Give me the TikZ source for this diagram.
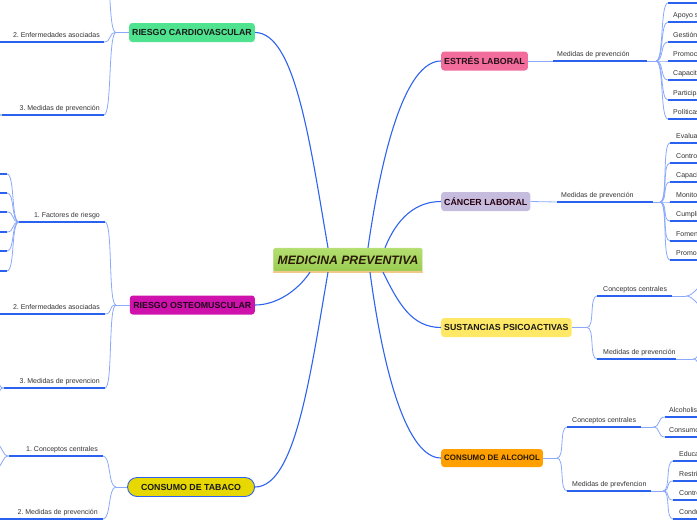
\documentclass[tikz,border=0pt]{standalone}
\usepackage{fontspec}
\setmainfont{Liberation Sans}
\definecolor{trunkblue}{HTML}{2E63EE}
\definecolor{twigblue}{HTML}{8AA9FA}
\definecolor{ulineblue}{HTML}{2A62EF}
\definecolor{lbltext}{HTML}{333333}
\definecolor{hubtop}{HTML}{B4DF70}
\definecolor{hubbot}{HTML}{98CC50}
\definecolor{hubline}{HTML}{C9E29A}
\definecolor{hubedge}{HTML}{F2C98A}
\definecolor{hubtext}{HTML}{2B1A05}
\definecolor{cardiofill}{HTML}{4FE38F}
\definecolor{osteofill}{HTML}{D012AC}
\definecolor{tabacofill}{HTML}{E6D800}
\definecolor{estresfill}{HTML}{F26C9C}
\definecolor{cancerfill}{HTML}{C6BCDD}
\definecolor{sustfill}{HTML}{FFE866}
\definecolor{alcoholfill}{HTML}{FFA000}
\begin{document}
\begin{tikzpicture}[x=1pt,y=-1pt,
    hub/.style={draw=hubline,rounded corners=1.5pt,top color=hubtop,bottom color=hubbot,
      minimum height=24pt,inner xsep=4pt,text=hubtext,
      font=\fontsize{12.2}{14}\selectfont\bfseries\itshape},
    topic/.style={rounded corners=3pt,minimum height=19pt,inner xsep=3pt,
      font=\fontsize{8.8}{10}\selectfont\bfseries},
    lbl/.style={inner sep=0pt,text=lbltext,font=\fontsize{7}{8}\selectfont},
    trunk/.style={draw=trunkblue,line width=1.1pt},
    twig/.style={draw=twigblue,line width=0.8pt},
    uline/.style={draw=ulineblue,line width=1.6pt},
    tol/.style={out=180,in=0,distance=8pt},
    tor/.style={out=0,in=180,distance=8pt}]
\useasboundingbox (0,0) rectangle (697,520);
\clip (0,0) rectangle (697,520);

% centre and main topics
\node[hub] (med) at (348,260) {MEDICINA PREVENTIVA};
\draw[hubedge,line width=1.5pt] (med.south west) -- (med.south east);

\node[topic,fill=cardiofill,text=black!90,anchor=east] (cardio) at (255,32.5) {RIESGO CARDIOVASCULAR};
\node[topic,fill=osteofill,text=black!85!osteofill,anchor=east,minimum width=125pt] (osteo) at (255,305) {RIESGO OSTEOMUSCULAR};
\node[topic,fill=tabacofill,draw=trunkblue,line width=0.9pt,rounded corners=9.5pt,
  text=black!90,anchor=east,minimum width=127pt] (tabaco) at (255,487) {CONSUMO DE TABACO};
\node[topic,fill=estresfill,text=black!85!estresfill,anchor=west] (estres) at (441,61) {ESTRÉS LABORAL};
\node[topic,fill=cancerfill,text=black!80!purple,anchor=west] (cancer) at (441,201.5) {CÁNCER LABORAL};
\node[topic,fill=sustfill,text=black!90,anchor=west] (sust) at (441,327.5) {SUSTANCIAS PSICOACTIVAS};
\node[topic,fill=alcoholfill,text=black!85!alcoholfill,anchor=west,minimum height=18pt,
  font=\fontsize{7.9}{9}\selectfont\bfseries] (alcohol) at (441,458) {CONSUMO DE ALCOHOL};

\draw[trunk] ([xshift=-20pt]med.north) .. controls +(-18,-105) and +(40,0) .. (cardio.east);
\draw[trunk] ([xshift=-38pt]med.south) .. controls +(-12,18) and +(22,0) .. (osteo.east);
\draw[trunk] ([xshift=-20pt]med.south) .. controls +(-18,105) and +(40,0) .. (tabaco.east);
\draw[trunk] ([xshift=20pt]med.north) .. controls +(17,-118) and +(-31,0) .. (estres.west);
\draw[trunk] ([xshift=37pt]med.north) .. controls +(12,-30) and +(-25,0) .. (cancer.west);
\draw[trunk] ([xshift=35pt]med.south) .. controls +(15,30) and +(-30,0) .. (sust.west);
\draw[trunk] ([xshift=22pt]med.south) .. controls +(14,105) and +(-33,0) .. (alcohol.west);

% RIESGO CARDIOVASCULAR
\coordinate (cj) at (116,32.5);
\coordinate (c1) at (104,-30);
\coordinate (c2) at (104,42);   \coordinate (c2e) at (-6,42);
\coordinate (c3) at (104,115);  \coordinate (c3e) at (2,115);
\draw[twig] (cardio.west) -- (cj);
\draw[twig] (cj) to[tol] (c1);
\draw[twig] (cj) to[tol] (c2);
\draw[twig] (cj) to[tol] (c3);
\draw[uline] (c2) -- (c2e);
\draw[uline] (c3) -- (c3e);
\draw[twig] (c3e) to[tol] (-8,104) (c3e) to[tol] (-8,126);
\node[lbl,anchor=base east] (c2t) at (100,37) {2.\ Enfermedades asociadas};
\node[lbl,anchor=base east] (c3t) at (100,110) {3.\ Medidas de prevención};

% RIESGO OSTEOMUSCULAR
\coordinate (oj) at (116,305);
\coordinate (o1) at (105,222);  \coordinate (o1e) at (19,222);
\coordinate (o2) at (105,314);  \coordinate (o2e) at (-6,314);
\coordinate (o3) at (105,388);  \coordinate (o3e) at (4,388);
\draw[twig] (osteo.west) -- (oj);
\foreach \k in {1,2,3} {
  \draw[twig] (oj) to[tol] (o\k);
  \draw[uline] (o\k) -- (o\k e);
}
\foreach \y [count=\i] in {174,193,212,232,251,271} {
  \coordinate (of\i) at (7,\y);
  \coordinate (ofe\i) at (-6,\y);
  \draw[twig] (o1e) to[tol] (of\i);
  \draw[uline] (of\i) -- (ofe\i);
}
\draw[twig] (o3e) to[tol] (-6,377) (o3e) to[tol] (-6,399);
\node[lbl,anchor=base east] (o1t) at (100,217) {1.\ Factores de riesgo};
\node[lbl,anchor=base east] (o2t) at (100,309) {2.\ Enfermedades asociadas};
\node[lbl,anchor=base east] (o3t) at (100,383) {3.\ Medidas de prevencion};

% CONSUMO DE TABACO
\coordinate (tj) at (116,487);
\coordinate (t1) at (103,456);  \coordinate (t1e) at (9,456);
\coordinate (t2) at (103,519);  \coordinate (t2e) at (-6,519);
\draw[twig] (tabaco.west) -- (tj);
\draw[twig] (tj) to[tol] (t1);
\draw[twig] (tj) to[tol] (t2);
\draw[uline] (t1) -- (t1e);
\draw[uline] (t2) -- (t2e);
\draw[twig] (t1e) to[tol] (-4,445) (t1e) to[tol] (-4,467);
\node[lbl,anchor=base east] (t1t) at (98,451) {1.\ Conceptos centrales};
\node[lbl,anchor=base east] (t2t) at (98,514) {2.\ Medidas de prevención};

% ESTRES LABORAL
\coordinate (es1) at (553,61);  \coordinate (es1e) at (647,61);
\coordinate (esj) at (656,61);
\draw[twig] (estres.east) -- (es1);
\draw[uline] (es1) -- (es1e);
\draw[twig] (es1e) -- (esj);
\node[lbl,anchor=base west] (es1t) at (557,56) {Medidas de prevención};
\coordinate (el0) at (668,3);  \coordinate (ele0) at (705,3);
\draw[twig] (esj) to[tor] (el0);
\draw[uline] (el0) -- (ele0);
\foreach \y/\t [count=\i] in {22/Apoyo social,42/Gestión del estrés,61/Promoción de la salud,
    80/Capacitación,100/Participación,119/Políticas} {
  \coordinate (el\i) at (668,\y);
  \coordinate (ele\i) at (705,\y);
  \draw[twig] (esj) to[tor] (el\i);
  \draw[uline] (el\i) -- (ele\i);
  \node[lbl,anchor=base west] (elt\i) at (673,\y-5) {\t};
}

% CANCER LABORAL
\coordinate (ca1) at (557,202);  \coordinate (ca1e) at (653,202);
\coordinate (caj) at (660,202);
\draw[twig] (cancer.east) -- (ca1);
\draw[uline] (ca1) -- (ca1e);
\draw[twig] (ca1e) -- (caj);
\node[lbl,anchor=base west] (ca1t) at (561,197) {Medidas de prevención};
\foreach \y/\t [count=\i] in {143/Evaluación de riesgos,163/Control de exposición,182/Capacitación,
    202/Monitoreo,221/Cumplimiento,241/Fomento,260/Promoción} {
  \coordinate (cl\i) at (670,\y);
  \coordinate (cle\i) at (705,\y);
  \draw[twig] (caj) to[tor] (cl\i);
  \draw[uline] (cl\i) -- (cle\i);
  \node[lbl,anchor=base west] (clt\i) at (676,\y-5) {\t};
}

% SUSTANCIAS PSICOACTIVAS
\coordinate (sj) at (587,327.5);
\coordinate (s1) at (597,296);  \coordinate (s1e) at (672,296);  \coordinate (s1j) at (686,296);
\coordinate (s2) at (597,359);  \coordinate (s2e) at (676,359);  \coordinate (s2j) at (693,359);
\draw[twig] (sust.east) -- (sj);
\draw[twig] (sj) to[tor] (s1);
\draw[twig] (sj) to[tor] (s2);
\draw[uline] (s1) -- (s1e);
\draw[uline] (s2) -- (s2e);
\draw[twig] (s1e) -- (s1j) (s2e) -- (s2j);
\draw[twig] (s1j) to[tor] (706,284) (s1j) to[tor] (706,308);
\draw[twig] (s2j) to[tor] (706,343) (s2j) to[tor] (706,375);
\node[lbl,anchor=base west] (s1t) at (603,291) {Conceptos centrales};
\node[lbl,anchor=base west] (s2t) at (603,354) {Medidas de prevención};

% CONSUMO DE ALCOHOL
\coordinate (aj) at (557,458);
\coordinate (a1) at (567,427);  \coordinate (a1e) at (641,427);  \coordinate (a1j) at (653,427);
\coordinate (a2) at (567,491);  \coordinate (a2e) at (651,491);  \coordinate (a2j) at (663,491);
\draw[twig] (alcohol.east) -- (aj);
\draw[twig] (aj) to[tor] (a1);
\draw[twig] (aj) to[tor] (a2);
\draw[uline] (a1) -- (a1e);
\draw[uline] (a2) -- (a2e);
\draw[twig] (a1e) -- (a1j) (a2e) -- (a2j);
\node[lbl,anchor=base west] (a1t) at (572,422) {Conceptos centrales};
\node[lbl,anchor=base west] (a2t) at (572,486) {Medidas de prevfencion};
\foreach \y/\t [count=\i] in {417/Alcoholismo,437/Consumo de riesgo} {
  \coordinate (al\i) at (665,\y);
  \coordinate (ale\i) at (705,\y);
  \draw[twig] (a1j) to[tor] (al\i);
  \draw[uline] (al\i) -- (ale\i);
  \node[lbl,anchor=base west] (alt\i) at (669,\y-5) {\t};
}
\foreach \y/\t [count=\i] in {461/Educación,481/Restricción,500/Control,519/Conducción} {
  \coordinate (am\i) at (673,\y);
  \coordinate (ame\i) at (705,\y);
  \draw[twig] (a2j) to[tor] (am\i);
  \draw[uline] (am\i) -- (ame\i);
  \node[lbl,anchor=base west] (amt\i) at (679,\y-5) {\t};
}
\end{tikzpicture}
\end{document}
